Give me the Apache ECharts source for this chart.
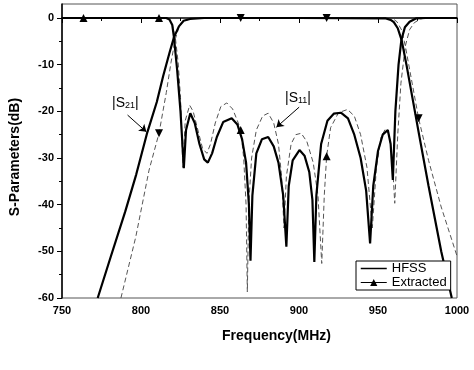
<!DOCTYPE html>
<html>
<head>
<meta charset="utf-8">
<script src="https://cdn.jsdelivr.net/npm/echarts@6/dist/echarts.min.js"></script>
<style>html,body{margin:0;padding:0;background:#fff}#c{width:474px;height:370px}</style>
</head>
<body>
<div id="c"></div>
<script>
// ---- Data ----
const xTicks = [750, 800, 850, 900, 950, 1000];
const yTicks = [-60, -50, -40, -30, -20, -10, 0];
const yMinorTicks = [-55, -45, -35, -25, -15, -5];

// HFSS |S21| (thick solid)
const hfssS21F = [772.6, 781, 790, 797, 804, 810, 814, 818, 821, 824, 827, 831, 840, 900, 955, 958, 960, 962.5, 965, 968, 972, 976, 982, 990, 996.7];
const hfssS21  = [-60, -51, -41.5, -33.5, -24.5, -18, -12.5, -7.5, -4, -1.8, -0.6, -0.2, 0, 0, -0.1, -0.4, -0.9, -2.2, -4.8, -10, -17.5, -25, -36, -50, -60];

// HFSS |S11| (thick solid)
const hfssS11F = [750, 816, 818, 819.8, 820.8, 822.9, 825, 827.1, 828.5, 831.2, 834, 837, 840, 842.3, 845, 848, 852, 857.4, 861, 864, 866.5, 868.3, 869.3, 870.5, 873, 876.5, 880.5, 884, 887, 890, 892, 893.5, 896, 900.3, 903.5, 906.5, 908.5, 909.7, 911, 914, 918, 922, 926.5, 931, 935, 939, 942.5, 945, 947, 950, 953, 956.2, 958, 959.4, 961, 963, 964.8, 967, 970, 974, 980, 1000];
const hfssS11  = [0, 0, -0.3, -1.5, -4, -11.2, -20, -32.2, -24, -20.4, -22.5, -27, -30.3, -31, -29, -25.5, -22.3, -21.5, -22.8, -26, -31, -40, -52, -38, -29, -26, -25.5, -27.5, -31, -38, -49, -36, -30.5, -28.3, -29.5, -33, -39, -52.3, -38, -27, -22, -20.5, -20.3, -21.5, -25, -30, -37, -48.3, -36, -28.5, -25, -24, -27, -34.7, -20, -10, -4.7, -2, -0.8, -0.1, 0, 0];

// Extracted |S21| (thin dashed, down-triangle markers)
const extS21F = [787.3, 796.7, 805.1, 811.4, 816, 819, 821.8, 824, 826, 830, 836, 863.1, 917.5, 955, 960, 962, 965, 967.3, 970, 975.7, 982, 990, 1000];
const extS21  = [-60, -46.9, -32.6, -24.7, -16, -9.5, -4.4, -2, -0.9, -0.3, 0, 0, 0, 0, -0.3, -0.8, -2.6, -6, -11, -21.5, -30.5, -40.5, -51];

// Extracted |S11| (thin dashed, up-triangle markers)
const extS11F = [750, 763.6, 811.4, 816, 818, 819.8, 821.8, 823.5, 825, 826.5, 828, 830.8, 833, 836, 839, 841.7, 844, 847, 850.5, 854.3, 858, 861, 863.1, 865, 866.5, 867.3, 868.2, 870, 873, 877, 880.5, 884, 887, 889, 890.5, 892, 895, 898, 901.4, 905, 909, 912, 914.4, 916, 917.5, 920, 925, 930.7, 935, 939, 943, 946.4, 949, 952, 954.8, 957, 959, 960.6, 962.5, 964.5, 967.3, 970, 973, 977, 980, 1000];
const extS11  = [0, 0, 0, 0, -0.3, -1.5, -4.4, -9.5, -17, -32, -22, -18.7, -20, -24, -28, -29, -27, -22.5, -19, -18.2, -19.5, -22, -24, -30, -40, -58.7, -40, -30, -24, -21, -20.4, -22.5, -27, -34, -45, -34, -27, -25, -24.7, -26.5, -31, -38, -52.6, -38, -29.6, -23.5, -20.3, -19.6, -21, -25, -32, -45, -32, -25.5, -23.7, -25, -30, -39.7, -25, -14, -6, -2.5, -1, -0.2, 0, 0];

// Frequencies carrying the Extracted markers
const markerFreqs = [763.6, 811.4, 863.1, 917.5, 975.7];

// ---- Build ----
const pairs = (fs, ys) => fs.map((f, i) => [f, ys[i]]);
const marked = (fs, ys, rot) => fs.map((f, i) => {
  const on = markerFreqs.includes(f);
  return { value: [f, ys[i]], symbol: on ? 'triangle' : 'none', symbolRotate: rot };
});

const font = '"Liberation Sans", Arial, sans-serif';
const chart = echarts.init(document.getElementById('c'), null, { renderer: 'canvas' });

const extLine = { color: '#555', width: 1, type: [5, 3] };

chart.setOption({
  animation: false,
  backgroundColor: '#fff',
  grid: { left: 59, right: 17, top: 4, bottom: 72, show: true, borderColor: '#555', borderWidth: 1 },
  legend: {
    left: 356, top: 261, orient: 'vertical',
    itemWidth: 26, itemHeight: 9, itemGap: 1, padding: [1, 4, 1, 4],
    borderColor: '#000', borderWidth: 1, backgroundColor: '#fff',
    textStyle: { fontSize: 13, fontFamily: font, color: '#000', lineHeight: 13 },
    data: [
      { name: 'HFSS', itemStyle: { color: 'rgba(0,0,0,0)', borderWidth: 0, opacity: 0 }, lineStyle: { width: 1.5, color: '#000', opacity: 1 } },
      { name: 'Extracted', itemStyle: { color: '#000' }, lineStyle: { type: 'solid', color: '#000', width: 1 } }
    ]
  },
  xAxis: {
    type: 'value', min: 750, max: 1000, interval: 50,
    name: 'Frequency(MHz)', nameLocation: 'middle', nameGap: 31,
    nameTextStyle: { fontSize: 14, fontWeight: 'bold', fontFamily: font, color: '#000', padding: [0, 0, 0, 34] },
    axisLine: { lineStyle: { color: '#000', width: 1.5 } },
    axisTick: { show: true, inside: false, length: 5, lineStyle: { color: '#000' } },
    minorTick: { show: true, splitNumber: 2, length: 3, lineStyle: { color: '#000' } },
    splitLine: { show: false },
    axisLabel: { fontSize: 11, fontWeight: 'bold', fontFamily: font, color: '#000', margin: 7,
      customValues: xTicks, formatter: v => String(v) }
  },
  yAxis: [{
    type: 'value', min: -60, max: 3,
    name: 'S-Parameters(dB)', nameLocation: 'middle', nameGap: 40,
    nameTextStyle: { fontSize: 14, fontWeight: 'bold', fontFamily: font, color: '#000', padding: [0, 0, 0, -12] },
    axisLine: { lineStyle: { color: '#000', width: 1.5 } },
    axisTick: { show: true, inside: false, length: 5, customValues: yTicks, lineStyle: { color: '#000' } },
    splitLine: { show: false },
    axisLabel: { fontSize: 11, fontWeight: 'bold', fontFamily: font, color: '#000', margin: 8,
      customValues: yTicks, formatter: v => String(v) }
  }, {
    type: 'value', min: -60, max: 3, position: 'left',
    axisLine: { show: false }, splitLine: { show: false }, axisLabel: { show: false },
    axisTick: { show: true, inside: false, length: 3, customValues: yMinorTicks, lineStyle: { color: '#000' } }
  }],
  series: [
    { name: 'Extracted', type: 'line', data: marked(extS11F, extS11, 0), symbol: 'triangle', symbolSize: 8,
      lineStyle: extLine, itemStyle: { color: '#000' }, z: 2 },
    { name: 'Extracted', type: 'line', data: marked(extS21F, extS21, 180), symbol: 'triangle', symbolSize: 8,
      lineStyle: extLine, itemStyle: { color: '#000' }, z: 2 },
    { name: 'HFSS', type: 'line', data: pairs(hfssS21F, hfssS21), symbol: 'none',
      lineStyle: { color: '#000', width: 2.2 }, itemStyle: { color: '#000' }, z: 3 },
    { name: 'HFSS', type: 'line', data: pairs(hfssS11F, hfssS11), symbol: 'none',
      lineStyle: { color: '#000', width: 2.2 }, itemStyle: { color: '#000' }, z: 3,
      markLine: {
        silent: true, symbol: ['none', 'arrow'], symbolSize: 7,
        lineStyle: { color: '#000', width: 1, type: 'solid' }, label: { show: false },
        data: [
          [{ coord: [791.5, -20.8] }, { coord: [803.4, -24.4] }],
          [{ coord: [900.1, -19.1] }, { coord: [885.7, -23.4] }]
        ]
      }
    }
  ],
  graphic: [
    { type: 'text', left: 112, top: 96, z: 10,
      style: { text: '|S{s|21}|', fontSize: 14, fontFamily: font, fill: '#000',
        rich: { s: { fontSize: 9, fontFamily: font, fill: '#000', padding: [6, 0, 0, 0] } } } },
    { type: 'text', left: 285, top: 91, z: 10,
      style: { text: '|S{s|11}|', fontSize: 14, fontFamily: font, fill: '#000',
        rich: { s: { fontSize: 9, fontFamily: font, fill: '#000', padding: [6, 0, 0, 0] } } } }
  ]
});
</script>
</body>
</html>
